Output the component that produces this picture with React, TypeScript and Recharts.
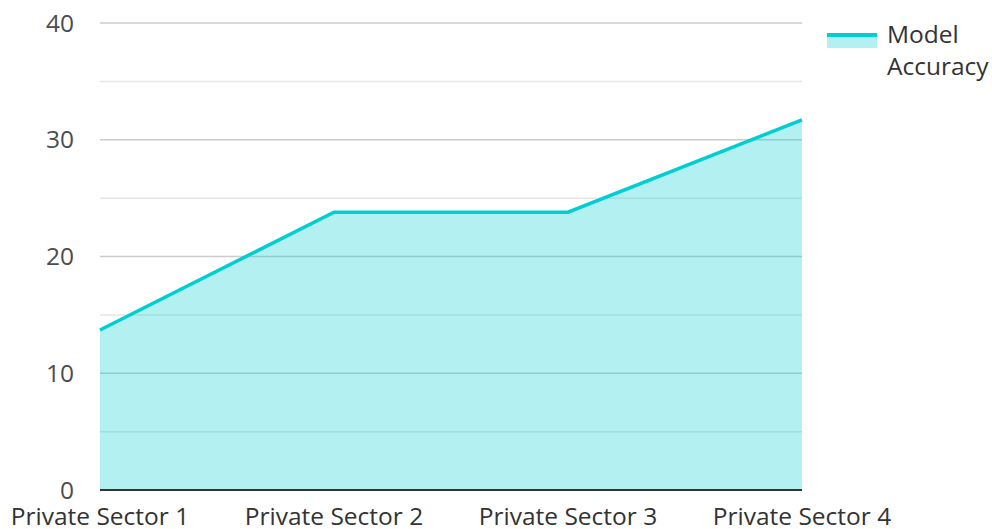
import React from 'react';
import { AreaChart, Area, XAxis, YAxis, CartesianGrid } from 'recharts';

const categories = ['Private Sector 1', 'Private Sector 2', 'Private Sector 3', 'Private Sector 4'];
const accuracy = [13.7, 23.8, 23.8, 31.7];
const yTicks = [0, 10, 20, 30, 40];
const minorTicks = [5, 15, 25, 35];

const seriesName = 'Model Accuracy';
const lineColor = '#00CED1';
const font = '"Open Sans", "Noto Sans", sans-serif';

const data = categories.map((name, i) => ({ name, value: accuracy[i] }));

const App: React.FC = () => {
  return (
    <div style={{ position: 'absolute', left: 0, top: 0, width: 992, height: 529, fontFamily: font }}>
      <AreaChart
        width={992}
        height={529}
        data={data}
        margin={{ top: 23, right: 190, bottom: 0, left: 0 }}
      >
        {/* lighter in-between lines first, then the labelled ones */}
        <CartesianGrid vertical={false} horizontalValues={minorTicks} stroke="#e6e6e6" strokeWidth={1.5} />
        <CartesianGrid vertical={false} stroke="#cccccc" strokeWidth={1.5} />

        <XAxis
          dataKey="name"
          interval={0}
          height={39}
          tickLine={false}
          tickSize={0}
          tickMargin={18}
          axisLine={{ stroke: '#333333', strokeWidth: 2 }}
          tick={{ fill: '#333333', fontSize: 24.5, fontFamily: font }}
        />

        <YAxis
          width={100}
          domain={[0, 40]}
          ticks={yTicks}
          axisLine={false}
          tickLine={false}
          tickSize={0}
          tickMargin={26}
          tick={{ fill: '#4d4d4d', fontSize: 24.5, fontFamily: font }}
        />

        <Area
          type="linear"
          dataKey="value"
          name={seriesName}
          stroke={lineColor}
          strokeWidth={3.5}
          fill={lineColor}
          fillOpacity={0.3}
          dot={false}
          activeDot={false}
          isAnimationActive={false}
        />
      </AreaChart>

      {/* legend, top right */}
      <div style={{ position: 'absolute', left: 827, top: 18, display: 'flex', alignItems: 'flex-start' }}>
        <div style={{ position: 'relative', width: 50, height: 15, marginTop: 15, background: 'rgba(0,206,209,0.3)' }}>
          <div style={{ position: 'absolute', left: 0, top: 0, width: 50, height: 4, background: lineColor }} />
        </div>
        <div style={{ marginLeft: 10, width: 105, fontSize: 24.5, lineHeight: '32px', color: '#333333' }}>
          {seriesName}
        </div>
      </div>
    </div>
  );
};

export default App;
